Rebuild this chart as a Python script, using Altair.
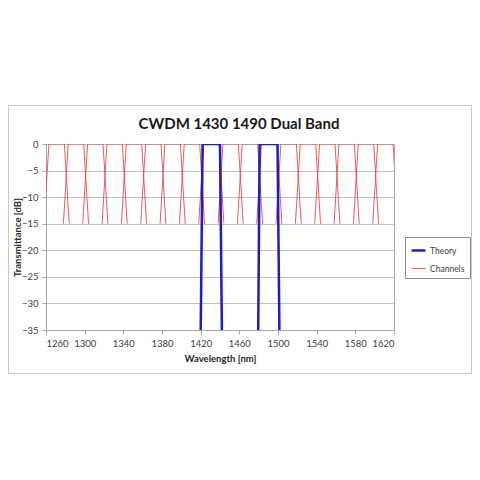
import altair as alt
import pandas as pd

# ---- data ----
title_text = "CWDM 1430 1490 Dual Band"
x_ticks = [1260, 1300, 1340, 1380, 1420, 1460, 1500, 1540, 1580, 1620]
y_ticks = [0, -5, -10, -15, -20, -25, -30, -35]

# channel trapezoids (wavelength nm, transmittance dB)
channel_db = [-15, 0, 0, -15]
channel_wl = [
    [1258, 1263, 1279, 1284],
    [1278, 1283, 1299, 1304],
    [1298, 1303, 1319, 1324],
    [1318, 1323, 1339, 1344],
    [1338, 1343, 1359, 1364],
    [1358, 1363, 1379, 1384],
    [1378, 1383, 1399, 1404],
    [1398, 1403, 1419, 1424],
    [1418, 1423, 1439, 1444],
    [1438, 1443, 1459, 1464],
    [1458, 1463, 1479, 1484],
    [1478, 1483, 1499, 1504],
    [1498, 1503, 1519, 1524],
    [1518, 1523, 1539, 1544],
    [1538, 1543, 1559, 1564],
    [1558, 1563, 1579, 1584],
    [1578, 1583, 1599, 1604],
    [1598, 1603, 1619, 1624],
]

# theory passbands
theory_db = [-36, 0, 0, -36]
theory_wl = [
    [1420, 1422, 1440, 1442],
    [1479.5, 1481, 1499.5, 1501.5],
]

rows = []
for i, wl in enumerate(channel_wl):
    for j, (w, d) in enumerate(zip(wl, channel_db)):
        rows.append({"series": "Channels", "seg": f"c{i}", "order": j, "wl": w, "db": d})
for i, wl in enumerate(theory_wl):
    for j, (w, d) in enumerate(zip(wl, theory_db)):
        rows.append({"series": "Theory", "seg": f"t{i}", "order": j, "wl": w, "db": d})
df = pd.DataFrame(rows)

FONT = "Lato"

legend_kw = dict(title=None, orient="none", legendX=359, legendY=93,
                 symbolType="stroke", symbolSize=196,
                 strokeColor="#8c8c8c", padding=5, rowPadding=5, labelOffset=3,
                 labelFont=FONT, labelFontSize=8.5, labelColor="#404040")

lines = alt.Chart(df).mark_line(clip=True).encode(
    x=alt.X("wl:Q", scale=alt.Scale(domain=[1260, 1620], nice=False, zero=False),
            axis=alt.Axis(values=x_ticks, format="d", title="Wavelength [nm]", grid=False,
                          tickSize=4, labelPadding=4, titlePadding=6,
                          domainColor="#a6a6a6", tickColor="#a6a6a6",
                          labelFontSize=9.5, titleFontSize=9.5, titleFontWeight="bold",
                          labelColor="#404040", titleColor="#262626",
                          labelFont=FONT, titleFont=FONT)),
    y=alt.Y("db:Q", scale=alt.Scale(domain=[-35, 0], nice=False),
            axis=alt.Axis(values=y_ticks, title="Transmittance [dB]", grid=True,
                          gridColor="#bfbfbf", gridWidth=1,
                          tickSize=4, labelPadding=4,
                          domainColor="#a6a6a6", tickColor="#a6a6a6",
                          labelFontSize=9.5, titleFontSize=9.5, titleFontWeight="bold",
                          labelColor="#404040", titleColor="#262626",
                          labelFont=FONT, titleFont=FONT,
                          titleX=-29, titleY=93, titleAlign="center", titleBaseline="middle",
                          titleAngle=270)),
    color=alt.Color("series:N",
                    scale=alt.Scale(domain=["Theory", "Channels"], range=["#1c1cc8", "#e84a4a"]),
                    legend=alt.Legend(**legend_kw)),
    strokeWidth=alt.StrokeWidth("series:N",
                                scale=alt.Scale(domain=["Theory", "Channels"], range=[2.5, 0.9]),
                                legend=alt.Legend(**legend_kw)),
    detail="seg:N",
    order="order:Q",
)

frame = alt.Chart(pd.DataFrame({"k": [0]})).mark_rect(
    fill=None, stroke="#c8c8c8", strokeWidth=1, clip=False
).encode(
    x=alt.value(-37.5), x2=alt.value(425.5), y=alt.value(-38.5), y2=alt.value(229.5)
)

chart = alt.layer(frame, lines).properties(
    width=348, height=186,
    title=alt.TitleParams(title_text, fontSize=15, font=FONT, fontWeight="bold",
                          color="#1a1a1a", anchor="middle", dx=19, offset=-27),
    padding={"left": 38, "top": 136, "right": 78, "bottom": 45},
    autosize=alt.AutoSizeParams(type="none"),
    background="white",
).configure_view(stroke="#a6a6a6", strokeWidth=1)

chart.save("out.html", embed_options={"renderer": "svg", "actions": False})
